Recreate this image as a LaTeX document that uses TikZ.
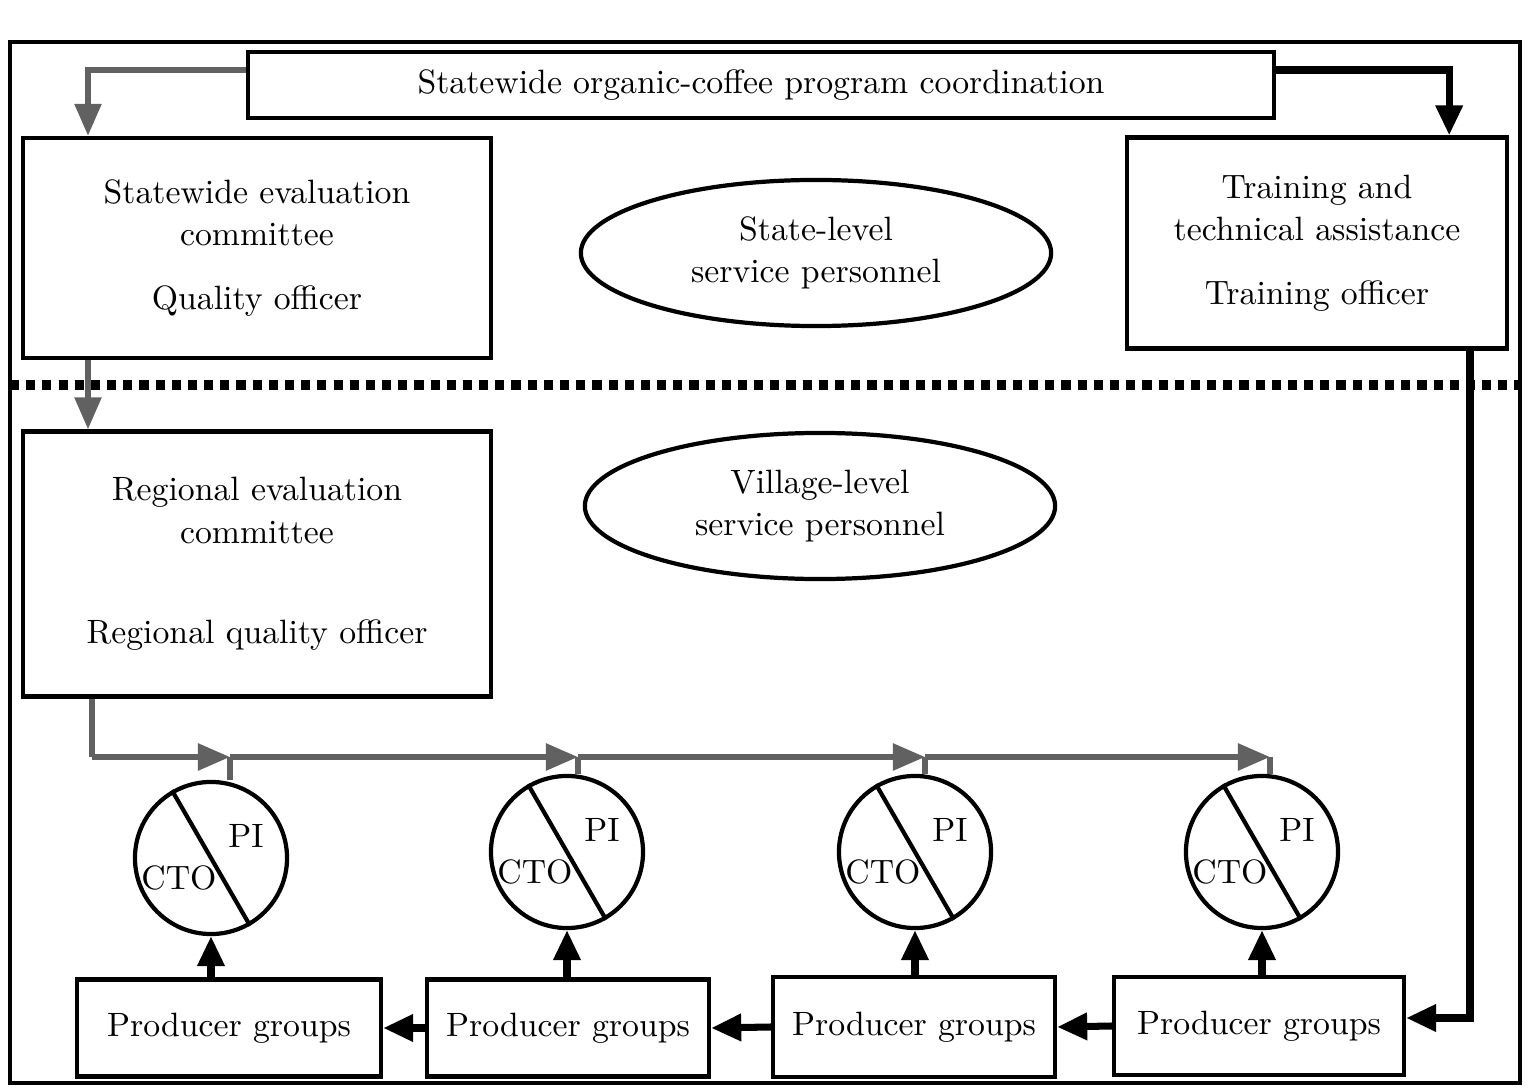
\documentclass[tikz,border=0pt]{standalone}
\usepackage{tikz}
\usetikzlibrary{arrows.meta,shapes.geometric}
\begin{document}
\begin{tikzpicture}[x=0.01cm, y=-0.01cm,
    font=\fontsize{9.6}{12}\selectfont,
    box/.style={draw, line width=1.2pt, align=center, inner sep=0pt},
    oval/.style={draw, ellipse, line width=1.2pt, align=center, minimum width=4.7cm, minimum height=1.46cm, inner sep=0pt},
    disc/.style={draw, circle, line width=1.2pt, minimum size=1.52cm, inner sep=0pt},
    gline/.style={line width=1.6pt, draw=black!62},
    garrow/.style={gline, -{Triangle[length=0.32cm, width=0.26cm]}},
    barrow/.style={line width=2pt, -{Triangle[length=0.3cm, width=0.26cm]}}]
  \useasboundingbox (0,0) rectangle (1532,1091);
  \draw[line width=1.2pt] (10,42) rectangle (1520,1083);
  % state level
  \node[box, minimum width=10.25cm, minimum height=0.66cm] (coord) at (761,85)
    {Statewide\ organic-coffee\ program\ coordination};
  \node[box, minimum width=4.67cm, minimum height=2.2cm] (sec) at (257,248)
    {Statewide\ evaluation\\ committee\\[1.5ex] Quality\ officer};
  \node[box, minimum width=3.8cm, minimum height=2.11cm] (train) at (1317,243)
    {Training\ and\\ technical\ assistance\\[1.5ex] Training\ officer};
  \node[oval] (state) at (816,253) {State-level\\ service\ personnel};
  \draw[line width=2.6pt, dotted] (10,385) -- (1520,385);
  % village level
  \node[box, minimum width=4.67cm, minimum height=2.65cm] (rec) at (257,564)
    {Regional\ evaluation\\ committee\\[4ex] Regional\ quality\ officer};
  \node[oval] (village) at (820,506) {Village-level\\ service\ personnel};
  % CTO / PI circles
  \foreach \i/\x/\y in {1/211/858, 2/567/852, 3/915/852, 4/1262/852}{
    \node[disc] (c\i) at (\x,\y) {};
    \draw[line width=1.2pt] (c\i.120) -- (c\i.-60);
    \node (pi\i) at ([shift={(0.35cm,0.22cm)}]c\i.center) {PI};
    \node (cto\i) at ([shift={(-0.32cm,-0.2cm)}]c\i.center) {CTO};
  }
  % producer groups
  \node[box, minimum width=3.04cm, minimum height=0.97cm] (p1) at (229,1028) {Producer\ groups};
  \node[box, minimum width=2.82cm, minimum height=0.97cm] (p2) at (568,1028) {Producer\ groups};
  \node[box, minimum width=2.82cm, minimum height=1cm] (p3) at (914,1027) {Producer\ groups};
  \node[box, minimum width=2.9cm, minimum height=0.98cm] (p4) at (1259,1026) {Producer\ groups};
  % connectors
  \coordinate (ga) at (88,0);
  \coordinate (gb) at (1470,1018);
  \draw[garrow] (coord.west |- 0,70) -| (ga |- sec.north);
  \draw[barrow] (coord.east |- 0,70) -| ([xshift=-0.6cm]train.north east);
  \draw[garrow] (ga |- sec.south) -- (ga |- rec.north);
  \coordinate (j0) at (92,757);
  \coordinate (j1) at (230,757);
  \coordinate (j2) at (578,757);
  \coordinate (j3) at (925,757);
  \coordinate (j4) at (1270,757);
  \draw[gline] (j0 |- rec.south) -- (j0);
  \foreach \a/\b in {0/1, 1/2, 2/3, 3/4}
    \draw[garrow] (j\a) -- (j\b);
  \foreach \i in {1,...,4}
    \draw[gline] (j\i) -- (j\i |- c\i.north);
  \draw[barrow] (gb |- train.south) -- (gb) -- (p4.east |- gb);
  \draw[barrow] (p4.west) -- (p3.east);
  \draw[barrow] (p3.west) -- (p2.east);
  \draw[barrow] (p2.west) -- (p1.east);
  \foreach \i in {1,...,4}
    \draw[barrow] (p\i.north -| c\i) -- (c\i.south);
\end{tikzpicture}
\end{document}
